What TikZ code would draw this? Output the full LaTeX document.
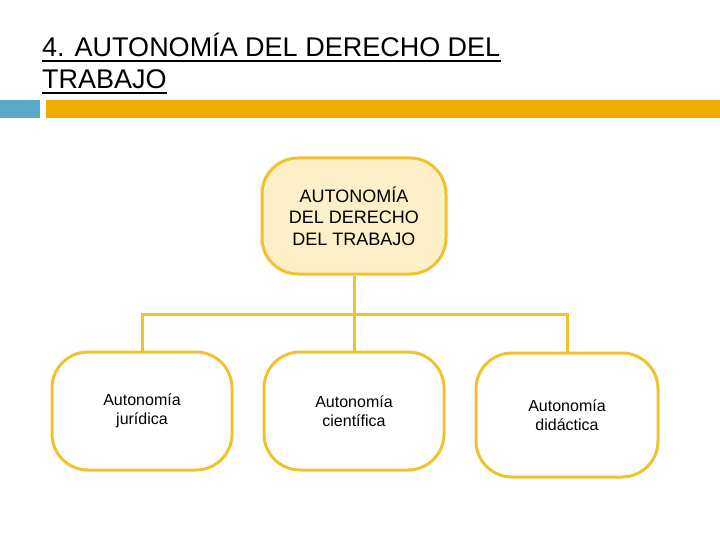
\documentclass[tikz,border=0pt]{standalone}
\usepackage{fontspec}
\setmainfont{Liberation Sans}
\definecolor{borde}{HTML}{F2C12E}
\definecolor{relleno}{HTML}{FDEFC8}
\definecolor{barra}{HTML}{F0AD00}
\definecolor{azul}{HTML}{5BA9C9}
\begin{document}
\begin{tikzpicture}[x=1pt,y=-1pt,
  caja/.style={draw=borde, line width=3pt, rounded corners=36pt, align=center,
               minimum width=180pt, minimum height=118pt, font=\fontsize{16}{19}\selectfont},
  titular/.style={anchor=base west, inner sep=0pt, font=\fontsize{27}{30}\selectfont},
  tronco/.style={draw=borde, line width=3pt}]
  \useasboundingbox (0,0) rectangle (720,540);
  % titulo y barras
  \node[titular] (titulo1) at (42,57) {4. AUTONOMÍA DEL DERECHO DEL};
  \node[titular] (titulo2) at (42,89) {TRABAJO};
  \draw[line width=1.2pt] ([yshift=-4pt]titulo1.base west) -- ([yshift=-4pt]titulo1.base east);
  \draw[line width=1.2pt] ([yshift=-4pt]titulo2.base west) -- ([yshift=-4pt]titulo2.base east);
  \fill[azul] (0,100) rectangle (40,118);
  \fill[barra] (46,100) rectangle (720,118);
  % nodos
  \node[caja, fill=relleno, minimum width=184pt, minimum height=116pt, font=\fontsize{18}{21.5}\selectfont] (raiz) at (354,216)
    {AUTONOMÍA\\DEL DERECHO\\DEL TRABAJO};
  \node[caja, fill=white] (juridica) at (142,411) {Autonomía\\jurídica};
  \node[caja, fill=white] (cientifica) at (354,411) {Autonomía\\científica};
  \node[caja, fill=white, minimum width=182pt, minimum height=124pt] (didactica) at (567,415) {Autonomía\\didáctica};
  % conectores
  \coordinate (rama) at (354,314);
  \draw[tronco] (raiz.south) -- (rama);
  \draw[tronco] (juridica.north) |- (rama) -| (didactica.north);
  \draw[tronco] (rama) -- (cientifica.north);
\end{tikzpicture}
\end{document}
